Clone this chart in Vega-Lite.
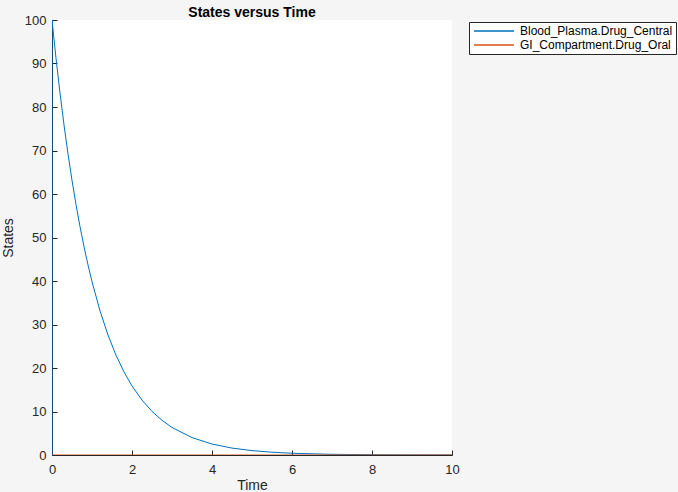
{
  "$schema": "https://vega.github.io/schema/vega-lite/v6.json",
  "autosize": {"type": "none"},
  "width": 400,
  "height": 435,
  "padding": {"left": 52, "top": 20, "right": 226, "bottom": 37},
  "background": "#f5f5f5",
  "title": {"text": "States versus Time", "font": "Liberation Sans", "fontSize": 14, "fontWeight": "bold", "color": "#000000", "anchor": "middle", "offset": -6},
  "config": {
    "view": {"fill": "white", "stroke": null},
    "axis": {"labelFont": "Liberation Sans", "labelFontSize": 13, "labelColor": "#262626", "titleFont": "Liberation Sans", "titleFontSize": 14, "titleFontWeight": "normal", "titleColor": "#262626", "domainColor": "#262626", "tickColor": "#262626", "grid": false, "labelFlush": false, "labelOverlap": false}
  },
  "data": {"values": [
    {"t": 0, "v": 0, "s": "Blood_Plasma.Drug_Central"},
    {"t": 0, "v": 100, "s": "Blood_Plasma.Drug_Central"},
    {"t": 0.1, "v": 91.21, "s": "Blood_Plasma.Drug_Central"},
    {"t": 0.2, "v": 83.19, "s": "Blood_Plasma.Drug_Central"},
    {"t": 0.3, "v": 75.88, "s": "Blood_Plasma.Drug_Central"},
    {"t": 0.4, "v": 69.21, "s": "Blood_Plasma.Drug_Central"},
    {"t": 0.5, "v": 63.13, "s": "Blood_Plasma.Drug_Central"},
    {"t": 0.6, "v": 57.58, "s": "Blood_Plasma.Drug_Central"},
    {"t": 0.7, "v": 52.52, "s": "Blood_Plasma.Drug_Central"},
    {"t": 0.8, "v": 47.90, "s": "Blood_Plasma.Drug_Central"},
    {"t": 0.9, "v": 43.69, "s": "Blood_Plasma.Drug_Central"},
    {"t": 1.0, "v": 39.85, "s": "Blood_Plasma.Drug_Central"},
    {"t": 1.2, "v": 33.15, "s": "Blood_Plasma.Drug_Central"},
    {"t": 1.4, "v": 27.58, "s": "Blood_Plasma.Drug_Central"},
    {"t": 1.6, "v": 22.94, "s": "Blood_Plasma.Drug_Central"},
    {"t": 1.8, "v": 19.09, "s": "Blood_Plasma.Drug_Central"},
    {"t": 2.0, "v": 15.88, "s": "Blood_Plasma.Drug_Central"},
    {"t": 2.25, "v": 12.62, "s": "Blood_Plasma.Drug_Central"},
    {"t": 2.5, "v": 10.03, "s": "Blood_Plasma.Drug_Central"},
    {"t": 2.75, "v": 7.97, "s": "Blood_Plasma.Drug_Central"},
    {"t": 3.0, "v": 6.33, "s": "Blood_Plasma.Drug_Central"},
    {"t": 3.5, "v": 4.00, "s": "Blood_Plasma.Drug_Central"},
    {"t": 4.0, "v": 2.52, "s": "Blood_Plasma.Drug_Central"},
    {"t": 4.5, "v": 1.59, "s": "Blood_Plasma.Drug_Central"},
    {"t": 5.0, "v": 1.01, "s": "Blood_Plasma.Drug_Central"},
    {"t": 5.5, "v": 0.64, "s": "Blood_Plasma.Drug_Central"},
    {"t": 6.0, "v": 0.40, "s": "Blood_Plasma.Drug_Central"},
    {"t": 7.0, "v": 0.16, "s": "Blood_Plasma.Drug_Central"},
    {"t": 8.0, "v": 0.064, "s": "Blood_Plasma.Drug_Central"},
    {"t": 9.0, "v": 0.025, "s": "Blood_Plasma.Drug_Central"},
    {"t": 10.0, "v": 0.01, "s": "Blood_Plasma.Drug_Central"},
    {"t": 0, "v": 0, "s": "GI_Compartment.Drug_Oral"},
    {"t": 10, "v": 0, "s": "GI_Compartment.Drug_Oral"}
  ]},
  "mark": {"type": "line", "strokeWidth": 1, "clip": true},
  "encoding": {
    "x": {"field": "t", "type": "quantitative", "scale": {"domain": [0, 10], "nice": false}, "axis": {"title": "Time", "values": [0, 2, 4, 6, 8, 10], "tickSize": -5, "labelPadding": 13, "titlePadding": 2}},
    "y": {"field": "v", "type": "quantitative", "scale": {"domain": [0, 100], "nice": false}, "axis": {"title": "States", "values": [0, 10, 20, 30, 40, 50, 60, 70, 80, 90, 100], "tickSize": -5, "labelPadding": 11, "titlePadding": 9}},
    "color": {"field": "s", "type": "nominal", "scale": {"domain": ["Blood_Plasma.Drug_Central", "GI_Compartment.Drug_Oral"], "range": ["#0072BD", "#D95319"]},
      "legend": {"title": null, "orient": "none", "legendX": 417, "legendY": 2, "symbolType": "M-1,0H9", "symbolSize": 64, "symbolStrokeWidth": 1.5, "labelFont": "Liberation Sans", "labelFontSize": 12, "labelColor": "#000000", "fillColor": "white", "strokeColor": "#262626", "padding": 3, "rowPadding": 2, "labelOffset": 36}},
    "order": {"field": "t"}
  }
}
